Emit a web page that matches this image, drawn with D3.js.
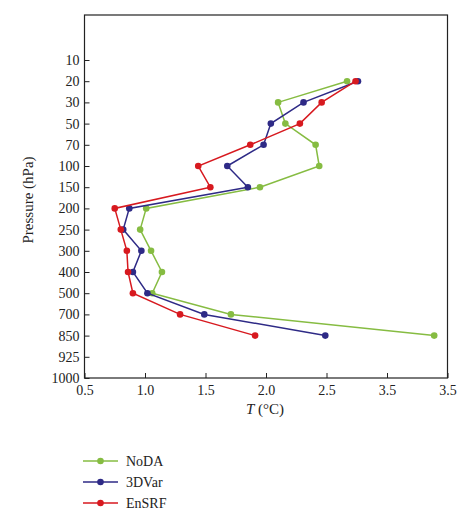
<!DOCTYPE html>
<html><head><meta charset="utf-8">
<script src="https://cdn.jsdelivr.net/npm/d3@7"></script>
<style>body{margin:0;background:#fff}text{font-family:"Liberation Serif","Times New Roman",serif}</style>
</head><body><svg id="c" width="474" height="526"></svg>
<script>
const levels = ["10","20","30","50","70","100","150","200","250","300","400","500","700","850","925","1000"];
const dataLevels = ["20","30","50","70","100","150","200","250","300","400","500","700","850"];
const noda  = [2.67,2.10,2.16,2.41,2.44,1.95,1.01,0.96,1.05,1.14,1.06,1.71,3.39];
const var3d = [2.76,2.31,2.04,1.98,1.68,1.85,0.87,0.82,0.97,0.90,1.02,1.49,2.49];
const ensrf = [2.74,2.46,2.28,1.87,1.44,1.54,0.75,0.80,0.85,0.86,0.90,1.29,1.91];
const xTicks = [0.5,1.0,1.5,2.0,2.5,3.0,3.5];
const xTickLabels = ["0.5","1.0","1.5","2.0","2.5","3.5","3.5"];
const series = [
  {name:"NoDA", values:noda, color:"#86bc42"},
  {name:"3DVar", values:var3d, color:"#2e2a86"},
  {name:"EnSRF", values:ensrf, color:"#d7191f"}
];
const svg = d3.select("#c");
const L=84.5, R=447.5, T=15, B=378;
const x = d3.scaleLinear().domain([0.5,3.5]).range([L,R]);
const y = d3.scalePoint().domain(levels).range([60,B]);
svg.append("rect").attr("x",L).attr("y",T).attr("width",R-L).attr("height",B-T)
  .attr("fill","none").attr("stroke","#222").attr("stroke-width",1.2);
const gx = svg.append("g").attr("transform",`translate(0,${B})`)
  .call(d3.axisTop(x).tickValues(xTicks).tickSize(5).tickFormat((d,i)=>xTickLabels[i]));
gx.select(".domain").remove();
gx.selectAll("text").attr("y",7).attr("dy","0.71em").style("font-size","14px").attr("fill","#222");
const gy = svg.append("g").attr("transform",`translate(${L},0)`)
  .call(d3.axisRight(y).tickSize(5));
gy.select(".domain").remove();
gy.selectAll("text").attr("x",-5).attr("text-anchor","end").style("font-size","14px").attr("fill","#222");
svg.selectAll(".tick line").attr("stroke","#222");
const line = d3.line().x(d=>x(d[0])).y(d=>y(d[1]));
series.forEach(s=>{
  const pts = s.values.map((v,i)=>[v,dataLevels[i]]);
  svg.append("path").attr("d",line(pts)).attr("fill","none").attr("stroke",s.color).attr("stroke-width",1.5);
  svg.selectAll(null).data(pts).enter().append("circle")
    .attr("cx",d=>x(d[0])).attr("cy",d=>y(d[1])).attr("r",3.3).attr("fill",s.color);
});
svg.append("text").attr("transform","translate(33,200) rotate(-90)").attr("text-anchor","middle")
  .style("font-size","15px").attr("fill","#222").text("Pressure (hPa)");
const xl = svg.append("text").attr("x",265).attr("y",414).attr("text-anchor","middle").style("font-size","15px").attr("fill","#222");
xl.append("tspan").attr("font-style","italic").text("T");
xl.append("tspan").text(" (°C)");
series.forEach((s,i)=>{
  const ly = 461 + i*21;
  svg.append("line").attr("x1",83).attr("x2",118).attr("y1",ly).attr("y2",ly).attr("stroke",s.color).attr("stroke-width",1.5);
  svg.append("circle").attr("cx",100.5).attr("cy",ly).attr("r",3.3).attr("fill",s.color);
  svg.append("text").attr("x",126).attr("y",ly).attr("dy","0.35em").style("font-size","14px").attr("fill","#222").text(s.name);
});
</script></body></html>
